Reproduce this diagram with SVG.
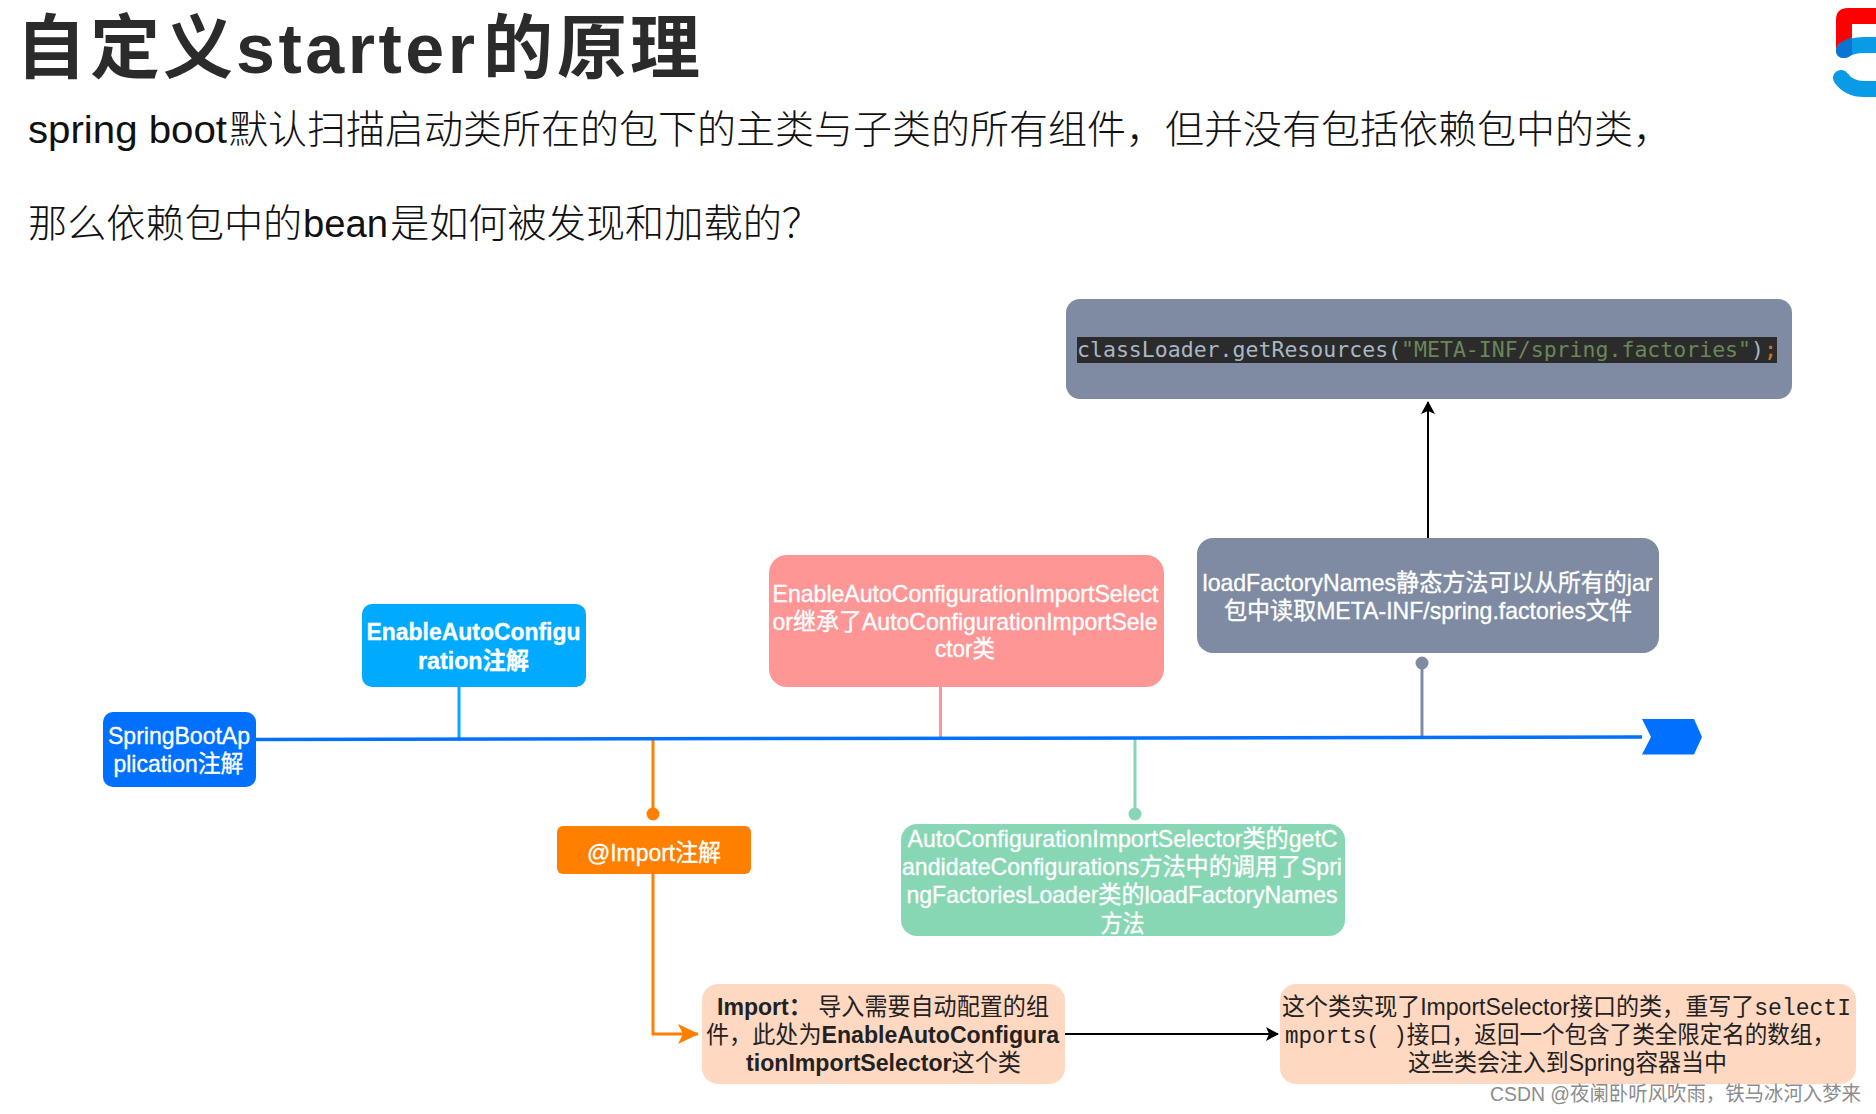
<svg xmlns="http://www.w3.org/2000/svg" width="1876" height="1114" viewBox="0 0 1876 1114">
<style>
text{font-family:"Liberation Sans","Noto Sans CJK SC",sans-serif}
.w{fill:#fff;font-size:24px;text-anchor:start;stroke:#fff;stroke-width:.35px}
.b{font-weight:bold}
.k{fill:#222;font-size:24px}
.m{font-family:"Liberation Mono","Noto Sans CJK SC",monospace}
.body{font-size:39.2px;fill:#111;font-weight:300}
.t{font-size:70px;font-weight:bold;fill:#2b2b2b}
.c{fill:none;stroke-width:3}
</style>
<defs>
<marker id="ak" markerUnits="userSpaceOnUse" markerWidth="16" markerHeight="16" refX="12" refY="7" orient="auto"><path d="M0 0L13 7L0 14L3 7Z" fill="#000"/></marker>
<marker id="ao" markerUnits="userSpaceOnUse" markerWidth="24" markerHeight="24" refX="20" refY="10" orient="auto"><path d="M0 0L21 10L0 20L5 10Z" fill="#ff7f00"/></marker>
</defs>
<rect width="1876" height="1114" fill="#fff"/>
<g id="title"><text class="t" y="73"><tspan x="16">自</tspan><tspan x="90">定</tspan><tspan x="163">义</tspan><tspan x="236" letter-spacing="3.5">starter</tspan><tspan x="483">的</tspan><tspan x="557">原</tspan><tspan x="630">理</tspan></text></g>
<g id="intro">
<text class="body" y="143"><tspan x="28" textLength="199" lengthAdjust="spacingAndGlyphs">spring boot</tspan><tspan x="229" font-size="39">默认扫描启动类所在的包下的主类与子类的所有组件，但并没有包括依赖包中的类，</tspan></text>
<text class="body" y="237"><tspan x="28">那么依赖包中的</tspan><tspan x="303" textLength="85" lengthAdjust="spacingAndGlyphs">bean</tspan><tspan x="390">是如何被发现和加载的？</tspan></text>
</g>
<g id="logo">
<path d="M1876 8H1848Q1836 8 1836 20V52H1852V24H1876Z" fill="#f00"/>
<path d="M1844 50Q1852 45 1864 45H1876M1876 89H1864Q1849 89 1841 78" fill="none" stroke="#0a9be6" stroke-width="16" stroke-linecap="round"/>
<path d="M1852 37.500Q1842 40 1838 46L1836 50V52Q1837 58 1844 58Q1849 58 1852 54Z" fill="#0a74d2"/>
</g>
<g id="connectors">
<path class="c" d="M459 687V739" stroke="#00aaff"/>
<path class="c" d="M940.500 687V738" stroke="#ff9696"/>
<path class="c" d="M1135 738V814" stroke="#87d7b4"/>
<circle cx="1135" cy="814" r="6.500" fill="#87d7b4"/>
<path class="c" d="M1422 738V663" stroke="#7e8ba3"/>
<circle cx="1422" cy="663" r="6.500" fill="#7e8ba3"/>
<path class="c" d="M653 739V814" stroke="#ff7f00"/>
<circle cx="653" cy="814" r="6.500" fill="#ff7f00"/>
<path class="c" d="M653 874V1034H698" stroke="#ff7f00" marker-end="url(#ao)"/>
<path d="M1065 1034H1278" fill="none" stroke="#000" stroke-width="2" marker-end="url(#ak)"/>
<path d="M1428 538V402" fill="none" stroke="#000" stroke-width="2" marker-end="url(#ak)"/>
<path d="M256 739.500L1642 737" fill="none" stroke="#0070ff" stroke-width="3.500"/>
<path d="M1642 719H1694L1702 737L1694 754.500H1642L1651 737Z" fill="#0070ff"/>
</g>
<g id="springbootapplication"><rect x="103" y="712" width="153" height="75" rx="10" fill="#0070ff"/>
<text class="w" x="108" y="744" textLength="142" lengthAdjust="spacingAndGlyphs">SpringBootAp</text>
<text class="w" x="113.500" y="772" textLength="130" lengthAdjust="spacingAndGlyphs">plication注解</text></g>
<g id="enableautoconfiguration"><rect x="362" y="604" width="224" height="83" rx="10" fill="#00aaff"/>
<text class="w b" x="366.500" y="640" textLength="214" lengthAdjust="spacingAndGlyphs">EnableAutoConfigu</text>
<text class="w b" x="418" y="669" textLength="111" lengthAdjust="spacingAndGlyphs">ration注解</text></g>
<g id="selector"><rect x="769" y="555" width="395" height="132" rx="18" fill="#ff9696"/>
<text class="w" x="772.500" y="602" textLength="386" lengthAdjust="spacingAndGlyphs">EnableAutoConfigurationImportSelect</text>
<text class="w" x="772.500" y="630" textLength="385" lengthAdjust="spacingAndGlyphs">or继承了AutoConfigurationImportSele</text>
<text class="w" x="935" y="657" textLength="60" lengthAdjust="spacingAndGlyphs">ctor类</text></g>
<g id="loadfactorynames"><rect x="1197" y="538" width="462" height="115" rx="16" fill="#7e8ba3"/>
<text class="w" x="1202.500" y="591" textLength="450" lengthAdjust="spacingAndGlyphs">loadFactoryNames静态方法可以从所有的jar</text>
<text class="w" x="1224" y="619" textLength="408" lengthAdjust="spacingAndGlyphs">包中读取META-INF/spring.factories文件</text></g>
<g id="getresources"><rect x="1066" y="299" width="726" height="100" rx="14" fill="#7e8ba3"/>
<rect x="1077" y="337" width="700" height="26" fill="#2b2b2b"/>
<text style="font-family:'DejaVu Sans Mono',monospace" x="1077" y="357" font-size="21.500" textLength="700" lengthAdjust="spacingAndGlyphs" fill="#a9b7c6">classLoader.getResources(<tspan fill="#6a8759">"META-INF/spring.factories"</tspan>)<tspan fill="#cc7832">;</tspan></text></g>
<g id="import"><rect x="557" y="826" width="194" height="48" rx="6" fill="#ff7f00"/>
<text class="w" x="587" y="861" textLength="134" lengthAdjust="spacingAndGlyphs">@Import注解</text></g>
<g id="candidate"><rect x="901" y="824" width="444" height="112" rx="16" fill="#87d7b4"/>
<text class="w" x="907.500" y="847" textLength="430" lengthAdjust="spacingAndGlyphs">AutoConfigurationImportSelector类的getC</text>
<text class="w" x="902" y="875" textLength="440" lengthAdjust="spacingAndGlyphs">andidateConfigurations方法中的调用了Spri</text>
<text class="w" x="906.500" y="903" textLength="431" lengthAdjust="spacingAndGlyphs">ngFactoriesLoader类的loadFactoryNames</text>
<text class="w" x="1100.500" y="932" textLength="44" lengthAdjust="spacingAndGlyphs">方法</text></g>
<g id="importnote"><rect x="702" y="984" width="363" height="100" rx="16" fill="#ffd8c2"/>
<text class="k" x="717" y="1015" textLength="332" lengthAdjust="spacingAndGlyphs"><tspan class="b">Import：</tspan> 导入需要自动配置的组</text>
<text class="k" x="706" y="1043" textLength="353" lengthAdjust="spacingAndGlyphs">件，此处为<tspan class="b">EnableAutoConfigura</tspan></text>
<text class="k" x="746" y="1071" textLength="275" lengthAdjust="spacingAndGlyphs"><tspan class="b">tionImportSelector</tspan>这个类</text></g>
<g id="selectimports"><rect x="1280" y="984" width="576" height="100" rx="16" fill="#ffd8c2"/>
<text class="k" x="1282" y="1015" textLength="569" lengthAdjust="spacingAndGlyphs">这个类实现了ImportSelector接口的类，重写了<tspan class="m">selectI</tspan></text>
<text class="k" x="1285" y="1043" textLength="550" lengthAdjust="spacingAndGlyphs"><tspan class="m">mports( )</tspan>接口，返回一个包含了类全限定名的数组，</text>
<text class="k" x="1408" y="1071" textLength="319" lengthAdjust="spacingAndGlyphs">这些类会注入到Spring容器当中</text></g>
<g id="watermark"><text x="1490" y="1101" font-size="20" fill="#8c8c8c" textLength="371" lengthAdjust="spacingAndGlyphs">CSDN @夜阑卧听风吹雨，铁马冰河入梦来</text></g>
</svg>
